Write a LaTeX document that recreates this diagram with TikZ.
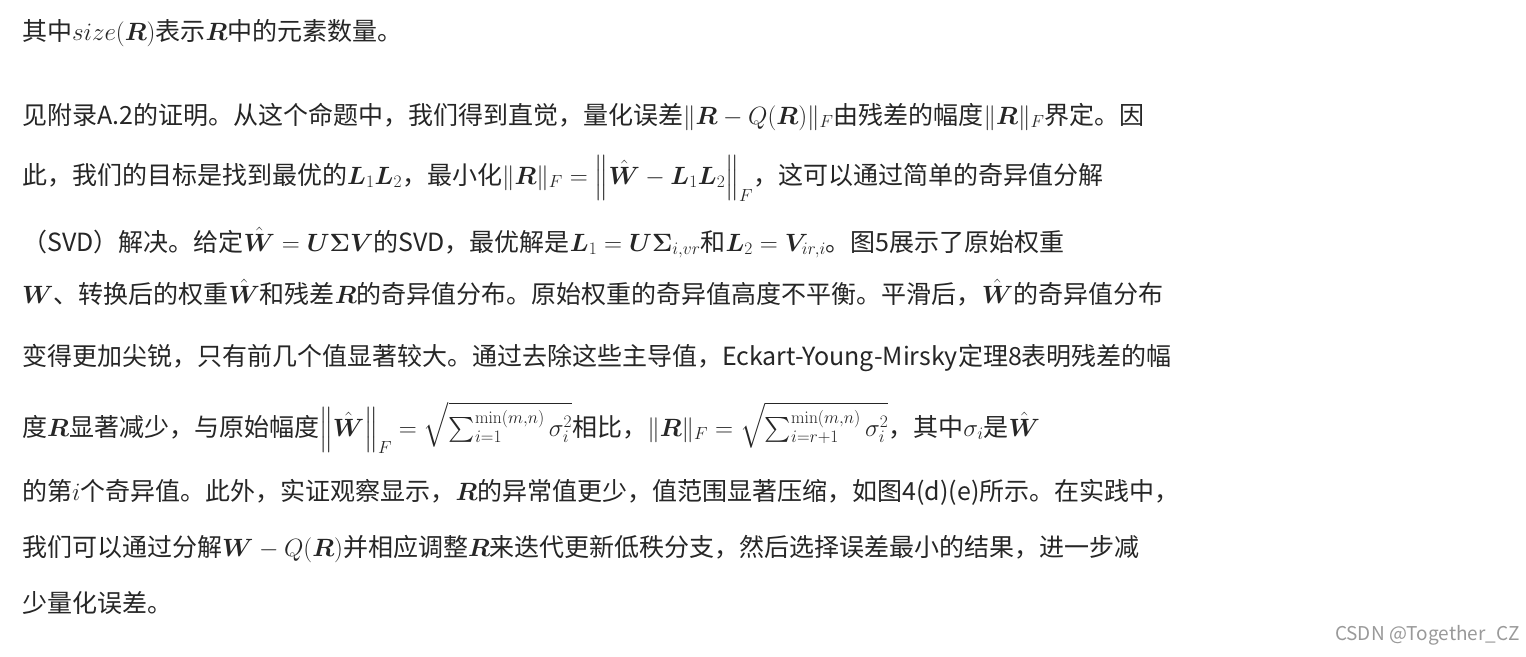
\RequirePackage{fix-cm}
\documentclass[tikz,border=0pt]{standalone}
\usepackage{amsmath,bm}
\usepackage[no-math]{fontspec}
\setmainfont{Noto Sans CJK SC}
\newcommand{\bR}{\bm{R}}
\newcommand{\bW}{\bm{W}}
\newcommand{\hW}{\hat{\bm{W}}}
\begin{document}
\begin{tikzpicture}[x=1pt,y=-1pt,
  ln/.style={anchor=base west,inner sep=0pt,font=\fontsize{25}{30}\selectfont,text=black!85}]
\useasboundingbox (0,0) rectangle (1526,656);
\fill[white] (0,0) rectangle (1526,656);
\node[ln] (l0) at (22,40) {其中$size(\bR)$表示$\bR$中的元素数量。};
\node[ln] (l1) at (22,124) {见附录A.2的证明。从这个命题中，我们得到直觉，量化误差$\|\bR-Q(\bR)\|_F$由残差的幅度$\|\bR\|_F$界定。因};
\node[ln] (l2) at (22,184) {此，我们的目标是找到最优的$\bm{L}_1\bm{L}_2$，最小化$\|\bR\|_F=\left\|\hW-\bm{L}_1\bm{L}_2\right\|_F$，这可以通过简单的奇异值分解};
\node[ln] (l3) at (22,251) {（SVD）解决。给定$\hW=\bm{U}\bm{\Sigma}\bm{V}$的SVD，最优解是$\bm{L}_1=\bm{U}\bm{\Sigma}_{i,vr}$和$\bm{L}_2=\bm{V}_{ir,i}$。图5展示了原始权重};
\node[ln] (l4) at (22,303) {$\bW$、转换后的权重$\hW$和残差$\bR$的奇异值分布。原始权重的奇异值高度不平衡。平滑后，$\hW$的奇异值分布};
\node[ln] (l5) at (22,365) {变得更加尖锐，只有前几个值显著较大。通过去除这些主导值，Eckart-Young-Mirsky定理8表明残差的幅};
\node[ln] (l6) at (22,436) {度$\bR$显著减少，与原始幅度$\left\|\hW\right\|_F=\sqrt{\sum_{i=1}^{\min(m,n)}\sigma_i^2}$相比，$\|\bR\|_F=\sqrt{\sum_{i=r+1}^{\min(m,n)}\sigma_i^2}$，其中$\sigma_i$是$\hW$};
\node[ln] (l7) at (22,500) {的第$i$个奇异值。此外，实证观察显示，$\bR$的异常值更少，值范围显著压缩，如图4(d)(e)所示。在实践中，};
\node[ln] (l8) at (22,556) {我们可以通过分解$\bW-Q(\bR)$并相应调整$\bR$来迭代更新低秩分支，然后选择误差最小的结果，进一步减};
\node[ln] (l9) at (22,612) {少量化误差。};
\node[anchor=base east,inner sep=0pt,font=\fontsize{19}{22}\selectfont,text=black!40] (wm) at (1520,640) {CSDN @Together\_CZ};
\end{tikzpicture}
\end{document}
